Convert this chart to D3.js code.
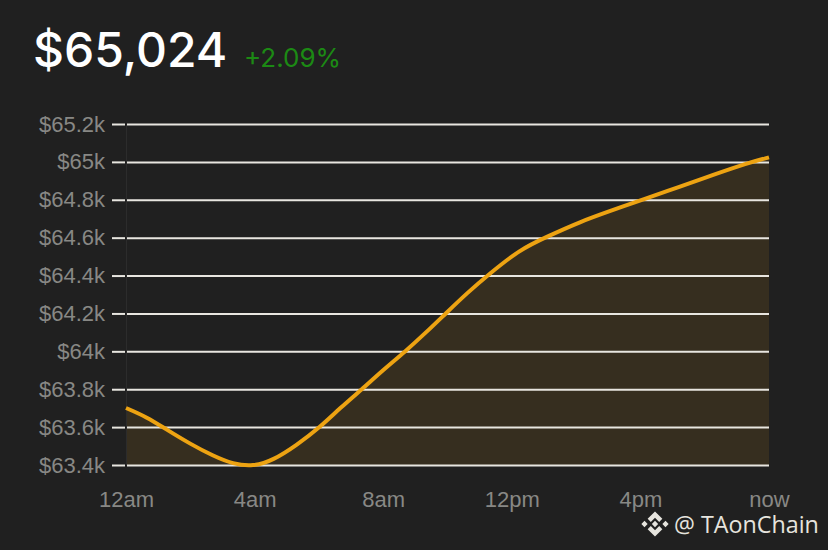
<!DOCTYPE html>
<html>
<head>
<meta charset="utf-8">
<script src="https://cdn.jsdelivr.net/npm/d3@7"></script>
<style>
    html, body { margin: 0; padding: 0; background: #202020; }
    svg { display: block; }
</style>
</head>
<body>
<div id="chart"></div>
<script>
// Values
const hours = [0, 0.65, 1.28, 2, 2.71, 3.33, 3.95, 4.57, 5.32, 6.03, 6.66, 7.34, 7.99, 8.68, 9.36, 9.95, 10.61, 11.26, 12.25, 13.09, 14.12, 15.15, 16.08, 17.23, 18.26, 19.32, 20]
const prices = [63701, 63653, 63585, 63511, 63448, 63405, 63392, 63424, 63506, 63599, 63701, 63800, 63901, 63998, 64104, 64201, 64308, 64403, 64538, 64605, 64684, 64746, 64802, 64869, 64931, 64993, 65024]
const yTicks = [63400, 63600, 63800, 64000, 64200, 64400, 64600, 64800, 65000, 65200]
const yLabels = ["$63.4k", "$63.6k", "$63.8k", "$64k", "$64.2k", "$64.4k", "$64.6k", "$64.8k", "$65k", "$65.2k"]
const xTicks = [0, 4, 8, 12, 16, 20]
const xLabels = ["12am", "4am", "8am", "12pm", "4pm", "now"]

const width = 828, height = 550
const x = d3.scaleLinear().domain([0, 20]).range([126, 769])
const y = d3.scaleLinear().domain([63400, 65200]).range([465, 124])

const svg = d3.select("#chart").append("svg")
    .attr("width", width)
    .attr("height", height)

// Area goes under the grid lines
const area = d3.area()
    .x((d, i) => x(hours[i]))
    .y0(y(63400))
    .y1(d => y(d))
    .curve(d3.curveBasis)

svg.append("path")
    .datum(prices)
    .attr("fill", "#362e1f")
    .attr("d", area)

// Y axis: tick stubs plus grid lines
const yAxis = d3.axisLeft(y)
    .tickValues(yTicks)
    .tickFormat((d, i) => yLabels[i])
    .tickSize(0)
    .tickPadding(21)

const yG = svg.append("g")
    .attr("transform", "translate(126,0)")
    .call(yAxis)
yG.select(".domain").attr("stroke", "#2c2c2c")
yG.selectAll(".tick text")
    .attr("fill", "#888885")
    .style("font-family", "'Liberation Sans'")
    .style("font-size", "22px")
yG.selectAll(".tick").append("line")
    .attr("x1", -14).attr("x2", -1)
    .attr("stroke", "#e8e6e0").attr("stroke-width", 2)
yG.selectAll(".tick").append("line")
    .attr("x1", 1).attr("x2", 643)
    .attr("stroke", "#e8e6e0").attr("stroke-width", 2)

// X axis
const xAxis = d3.axisBottom(x)
    .tickValues(xTicks)
    .tickFormat((d, i) => xLabels[i])
    .tickSize(0)
    .tickPadding(26)

const xG = svg.append("g")
    .attr("transform", "translate(0,465)")
    .call(xAxis)
xG.select(".domain").remove()
xG.selectAll(".tick text")
    .attr("fill", "#888885")
    .style("font-family", "'Liberation Sans'")
    .style("font-size", "22px")

// Price line
const line = d3.line()
    .x((d, i) => x(hours[i]))
    .y(d => y(d))
    .curve(d3.curveBasis)

svg.append("path")
    .datum(prices)
    .attr("fill", "none")
    .attr("stroke", "#eda312")
    .attr("stroke-width", 4)
    .attr("d", line)

// Header
svg.append("text")
    .attr("x", 33).attr("y", 67)
    .attr("fill", "#ffffff")
    .style("font-family", "Inter")
    .style("font-size", "48px")
    .style("font-weight", 500)
    .text("$65,024")

svg.append("text")
    .attr("x", 244).attr("y", 67)
    .attr("fill", "#1c8a14")
    .style("font-family", "Inter")
    .style("font-size", "26px")
    .text("+2.09%")

// Watermark
const mark = svg.append("g")
    .attr("transform", "translate(655,524) scale(1.05)")
    .attr("fill", "#e6e4de")
mark.append("path")
    .attr("d", "M0,-12 L7,-5 L4,-2 L0,-6 L-4,-2 L-7,-5 Z M0,12 L7,5 L4,2 L0,6 L-4,2 L-7,5 Z M-13,0 L-10,-3 L-7,0 L-10,3 Z M13,0 L10,-3 L7,0 L10,3 Z M0,-3 L3,0 L0,3 L-3,0 Z")

svg.append("text")
    .attr("x", 674).attr("y", 533)
    .attr("fill", "#e6e4de")
    .style("font-family", "'Open Sans'")
    .style("font-size", "23.3px")
    .text("@ TAonChain")
</script>
</body>
</html>
